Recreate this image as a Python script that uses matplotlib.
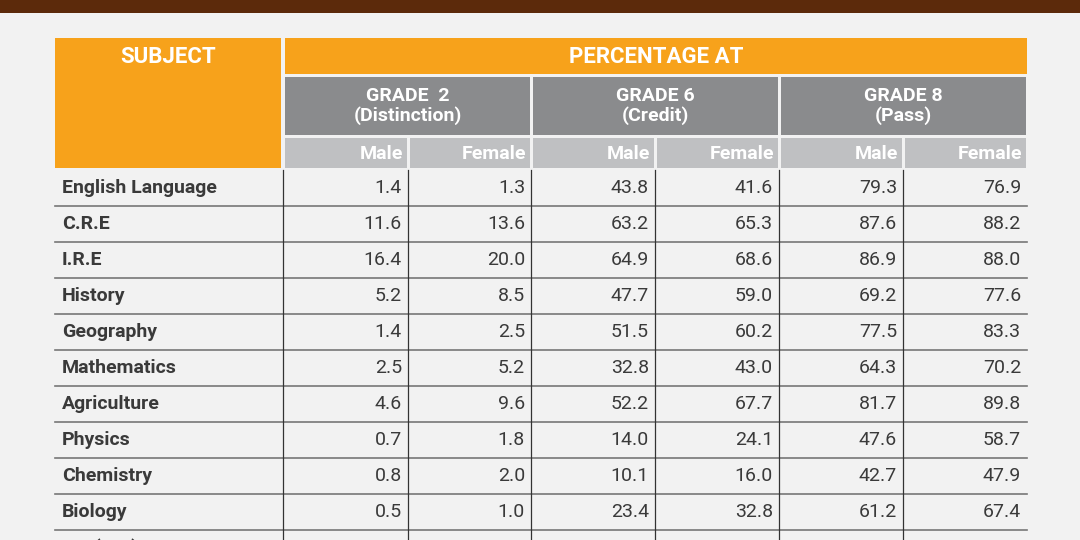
import matplotlib
matplotlib.use("Agg")
import matplotlib.pyplot as plt
from matplotlib.patches import Rectangle
from matplotlib import font_manager

subjects = ["English Language", "C.R.E", "I.R.E", "History", "Geography", "Mathematics",
            "Agriculture", "Physics", "Chemistry", "Biology", "Art (IDS)"]
g2_male = [1.4, 11.6, 16.4, 5.2, 1.4, 2.5, 4.6, 0.7, 0.8, 0.5, 1.0]
g2_female = [1.3, 13.6, 20.0, 8.5, 2.5, 5.2, 9.6, 1.8, 2.0, 1.0, 2.2]
g6_male = [43.8, 63.2, 64.9, 47.7, 51.5, 32.8, 52.2, 14.0, 10.1, 23.4, 70.3]
g6_female = [41.6, 65.3, 68.6, 59.0, 60.2, 43.0, 67.7, 24.1, 16.0, 32.8, 73.9]
g8_male = [79.3, 87.6, 86.9, 69.2, 77.5, 64.3, 81.7, 47.6, 42.7, 61.2, 90.7]
g8_female = [76.9, 88.2, 88.0, 77.6, 83.3, 70.2, 89.8, 58.7, 47.9, 67.4, 90.7]
grades = ["GRADE  2\n(Distinction)", "GRADE 6\n(Credit)", "GRADE 8\n(Pass)"]

names = {f.name for f in font_manager.fontManager.ttflist}
fam = "DejaVu Sans Condensed" if "DejaVu Sans Condensed" in names else "Roboto"
plt.rcParams["font.family"] = fam

fig = plt.figure(figsize=(10.8, 5.4), dpi=100)
ax = fig.add_axes([0, 0, 1, 1])
ax.set_xlim(0, 1080); ax.set_ylim(540, 0); ax.axis("off")
fig.patch.set_facecolor("#f2f2f2")

def rect(x0, y0, x1, y1, c):
    ax.add_patch(Rectangle((x0, y0), x1 - x0, y1 - y0, color=c, lw=0))

rect(0, 0, 1080, 13, "#5c2a0b")
orange, dgrey, lgrey, txt = "#f7a21b", "#8a8b8d", "#bfc0c2", "#3a3a3a"
cols = [55, 283, 408, 531, 655, 779, 903, 1027]
rect(55, 38, 281, 168, orange)
rect(285, 38, 1027, 74, orange)
ax.text(168, 57, "SUBJECT", ha="center", va="center", color="white", fontsize=16, weight="bold")
ax.text(656, 57, "PERCENTAGE AT", ha="center", va="center", color="white", fontsize=16, weight="bold")
for i, g in enumerate(grades):
    x0, x1 = cols[1 + 2 * i] + 2, cols[3 + 2 * i] - 1
    rect(x0, 77, x1, 135, dgrey)
    ax.text((x0 + x1) / 2, 106, g, ha="center", va="center", color="white", fontsize=14,
            weight="bold", linespacing=1.05)
    for j, lab in enumerate(["Male", "Female"]):
        a, b = cols[1 + 2 * i + j] + 2, cols[2 + 2 * i + j] - 1
        rect(a, 138, b, 168, lgrey)
        ax.text(b - 4, 154, lab, ha="right", va="center", color="white", fontsize=14, weight="bold")

rh = 36.0
y0 = 170
series = [g2_male, g2_female, g6_male, g6_female, g8_male, g8_female]
for r, s in enumerate(subjects):
    yc = y0 + r * rh + 18
    ax.text(62, yc, s, ha="left", va="center", color=txt, fontsize=14, weight="bold")
    for c, ser in enumerate(series):
        ax.text(cols[c + 2] - 6, yc, f"{ser[r]:.1f}", ha="right", va="center", color=txt, fontsize=14)
    ax.plot([55, 1027], [y0 + (r + 1) * rh, y0 + (r + 1) * rh], color="#777777", lw=1.2)
for x in cols[1:-1]:
    ax.plot([x, x], [y0, 540], color="#333333", lw=0.9)

fig.savefig("out.png", dpi=100, facecolor=fig.get_facecolor())
